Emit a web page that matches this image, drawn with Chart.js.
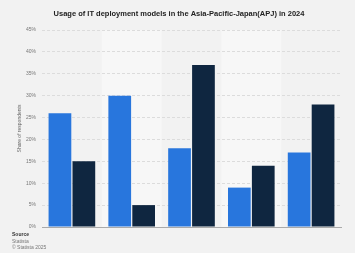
<!DOCTYPE html>
<html>
<head>
<meta charset="utf-8">
<script src="https://cdn.jsdelivr.net/npm/chart.js@4/dist/chart.umd.min.js"></script>
<style>
  html, body { margin: 0; padding: 0; background: #f2f2f2; }
  #wrap { position: relative; width: 355px; height: 253px; }
  #source {
    position: absolute; left: 12px; top: 231px;
    font-family: "Liberation Sans", Arial, sans-serif; font-size: 5px; line-height: 6.5px; color: #777;
  }
  #source b { color: #333; font-weight: bold; }
</style>
</head>
<body>
<div id="wrap">
  <canvas id="chart" width="355" height="253"></canvas>
  <div id="source"><b>Source</b><br>Statista<br>© Statista 2025</div>
</div>
<script>
const categories = ["On-premises", "Private cloud", "Public cloud", "Hybrid cloud", "Multi-cloud"];
const seriesA = [26, 30, 18, 9, 17];
const seriesB = [15, 5, 37, 14, 28];
const seriesNames = ["2023", "2024"];
const yTicks = [0, 5, 10, 15, 20, 25, 30, 35, 40, 45];

const bandPlugin = {
    id: "bands",
    beforeDraw: (chart) => {
        const { ctx, chartArea, scales } = chart;
        const x = scales.x;
        const step = (chartArea.right - chartArea.left) / categories.length;
        ctx.save();
        ctx.fillStyle = "#f7f7f7";
        categories.forEach((c, i) => {
            if (i % 2 === 1) {
                const cx = x.getPixelForValue(i);
                ctx.fillRect(cx - step / 2, chartArea.top, step, chartArea.bottom - chartArea.top);
            }
        });
        ctx.restore();
    }
};

const font = "'Liberation Sans', Arial, sans-serif";

new Chart(document.getElementById("chart"), {
    type: "bar",
    data: {
        labels: categories,
        datasets: [{
            label: seriesNames[0],
            data: seriesA,
            backgroundColor: "#2876dd",
            categoryPercentage: 0.8,
            barPercentage: 0.95
        }, {
            label: seriesNames[1],
            data: seriesB,
            backgroundColor: "#0f2640",
            categoryPercentage: 0.8,
            barPercentage: 0.95
        }]
    },
    options: {
        responsive: false,
        animation: false,
        layout: {
            padding: { left: 17, right: 14, top: 0, bottom: 18 }
        },
        plugins: {
            legend: { display: false },
            tooltip: { enabled: false },
            title: {
                display: true,
                text: "Usage of IT deployment models in the Asia-Pacific-Japan(APJ) in 2024",
                color: "#222",
                font: { family: font, size: 7.5, weight: "bold" },
                padding: { top: 9, bottom: 12 }
            }
        },
        scales: {
            x: {
                ticks: { display: false },
                grid: { display: false },
                border: { display: true, color: "#aaa", width: 1 }
            },
            y: {
                min: 0,
                max: 45,
                afterBuildTicks: (scale) => {
                    scale.ticks = yTicks.map(v => ({ value: v }));
                },
                afterFit: (scale) => {
                    scale.width = 25;
                },
                ticks: {
                    color: "#777",
                    padding: 6,
                    font: { family: font, size: 5 },
                    callback: (v) => v + "%"
                },
                grid: {
                    color: "#dcdcdc",
                    drawTicks: false
                },
                border: { display: false, dash: [3, 2] },
                title: {
                    display: true,
                    text: "Share of respondents",
                    color: "#666",
                    font: { family: font, size: 5 },
                    padding: 0
                }
            }
        }
    },
    plugins: [bandPlugin]
});
</script>
</body>
</html>
